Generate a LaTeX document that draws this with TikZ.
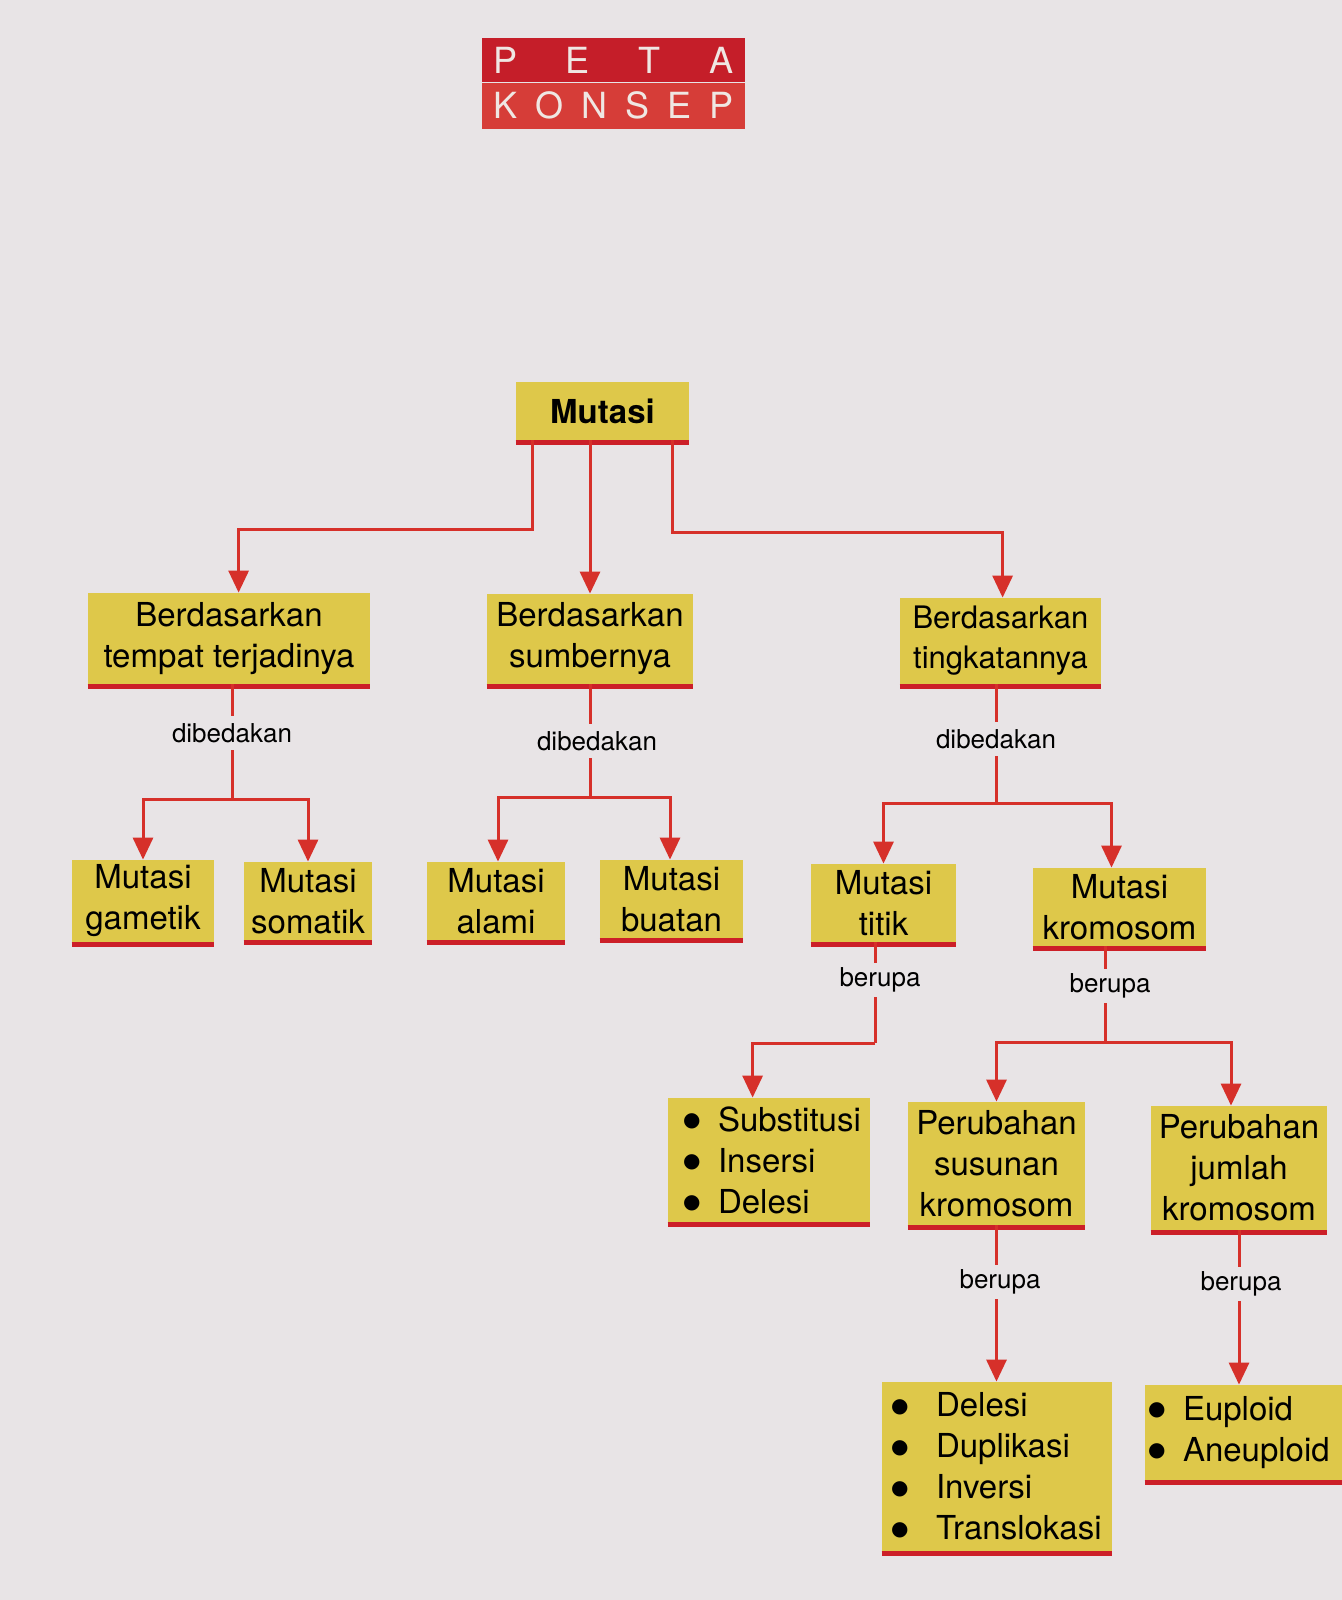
\documentclass[tikz,border=0pt]{standalone}
\usepackage{fontspec}
\setmainfont{TeX Gyre Heros}
\newfontfamily\symfont{DejaVu Sans}
\usetikzlibrary{arrows.meta,calc}
\definecolor{paper}{HTML}{E8E4E6}
\definecolor{boxyellow}{HTML}{DEC84A}
\definecolor{linered}{HTML}{D6302A}
\definecolor{barred}{HTML}{CC1F28}
\definecolor{titletop}{HTML}{C51E29}
\definecolor{titlebot}{HTML}{D63D38}
\definecolor{titletext}{HTML}{EFE7E3}
\newcommand{\boxfont}{\fontsize{16.5}{20.5}\selectfont}
\newcommand{\lblfont}{\fontsize{13}{15}\selectfont}
\newcommand{\itm}[2]{\hspace*{#1}\makebox[#2][l]{\raisebox{2.3pt}{\fontsize{10}{12}\symfont ●}}}
\tikzstyle{block} = [rectangle, fill=boxyellow, inner sep=0pt, align=center, font=\boxfont]
\tikzstyle{listblock} = [block, align=left]
\tikzstyle{titlebar} = [rectangle, inner sep=0pt, minimum width=131.5pt, text=titletext, font=\fontsize{18}{18}\selectfont]
\tikzstyle{lbl} = [inner sep=0pt, minimum height=17pt, font=\lblfont]
\tikzstyle{conn} = [draw=linered, line width=1.5pt]
\tikzstyle{uline} = [draw=barred, line width=2.5pt]
\begin{document}
\begin{tikzpicture}[x=0.5pt, y=-0.5pt, >={Triangle[length=11pt,width=10pt]}]
   \fill[paper] (0,0) rectangle (1342,1600);
   \useasboundingbox (0,0) rectangle (1342,1600);

   % title
   \node[titlebar, fill=titletop, minimum height=22pt] (peta) at (613.5,60) {\hbox to 120.5pt{P\hfill E\hfill T\hfill A}};
   \node[titlebar, fill=titlebot, minimum height=23pt, anchor=north] (konsep) at (peta.south) {\hbox to 120.5pt{K\hfill O\hfill N\hfill S\hfill E\hfill P}};

   % nodes
   \node[block, font=\boxfont\bfseries, minimum width=86.5pt, minimum height=29pt] (mutasi) at (602.5,411) {Mutasi};
   \node[block, minimum width=141pt, minimum height=45.5pt] (tempat)   at (229,638.5)   {Berdasarkan\\tempat terjadinya};
   \node[block, minimum width=103pt, minimum height=45pt]   (sumber)   at (590,639)     {Berdasarkan\\sumbernya};
   \node[block, font=\fontsize{15.5}{20}\selectfont, minimum width=100.5pt, minimum height=43pt] (tingkat) at (1000.5,641) {Berdasarkan\\tingkatannya};
   \node[block, minimum width=71pt, minimum height=41pt]    (gametik)  at (143,901)     {Mutasi\\gametik};
   \node[block, minimum width=64pt, minimum height=39pt]    (somatik)  at (308,901)     {Mutasi\\somatik};
   \node[block, minimum width=69pt, minimum height=39pt]    (alami)    at (496,901)     {Mutasi\\alami};
   \node[block, minimum width=71.5pt, minimum height=39pt]  (buatan)   at (671.5,899)   {Mutasi\\buatan};
   \node[block, minimum width=72.5pt, minimum height=39pt]  (titik)    at (883.5,903)   {Mutasi\\titik};
   \node[block, minimum width=86.5pt, minimum height=39pt]  (kromosom) at (1119.5,907)  {Mutasi\\kromosom};
   \node[listblock, text width=101pt, minimum height=62pt]  (titiklist) at (769,1160)
      {\itm{7.5pt}{17.5pt}Substitusi\\\itm{7.5pt}{17.5pt}Insersi\\\itm{7.5pt}{17.5pt}Delesi};
   \node[block, minimum width=88.5pt, minimum height=61.5pt] (susunan) at (996.5,1163.5) {Perubahan\\susunan\\kromosom};
   \node[block, minimum width=88pt, minimum height=62pt]    (jumlah)   at (1239,1168)   {Perubahan\\jumlah\\kromosom};
   \node[listblock, text width=115pt, minimum height=84.5pt] (susunanlist) at (997,1466.5)
      {\itm{4.5pt}{22.5pt}Delesi\\\itm{4.5pt}{22.5pt}Duplikasi\\\itm{4.5pt}{22.5pt}Inversi\\\itm{4.5pt}{22.5pt}Translokasi};
   \node[listblock, text width=102.5pt, minimum height=47.5pt] (jumlahlist) at (1247.5,1432.5)
      {\itm{1.5pt}{17.5pt}Euploid\\\itm{1.5pt}{17.5pt}Aneuploid};

   \foreach \n in {mutasi,tempat,sumber,tingkat,gametik,somatik,alami,buatan,titik,kromosom,titiklist,susunan,jumlah,susunanlist,jumlahlist}
      \draw[uline] ([yshift=-1.25pt]\n.south west) -- ([yshift=-1.25pt]\n.south east);

   % labels
   \node[lbl] (dbtempat)   at (232,733)   {dibedakan};
   \node[lbl] (dbsumber)   at (597,741)   {dibedakan};
   \node[lbl] (dbtingkat)  at (996,739)   {dibedakan};
   \node[lbl] (brtitik)    at (880,980)   {berupa};
   \node[lbl] (brkromosom) at (1110,986)  {berupa};
   \node[lbl] (brsusunan)  at (1000,1282) {berupa};
   \node[lbl] (brjumlah)   at (1241,1284) {berupa};

   % junctions
   \coordinate (jtempat)   at (232,799);
   \coordinate (jsumber)   at (590,797);
   \coordinate (jtingkat)  at (996,803);
   \coordinate (jtitik)    at (875,1043);
   \coordinate (jkromosom) at (1105,1042);

   % edges
   \draw[conn,->] ($(mutasi.south west)+(17,0)$) -- ++(0,89) -| ($(tempat.north west)+(151,0)$);
   \draw[conn,->] (sumber.north |- mutasi.south) -- (sumber.north);
   \draw[conn,->] ($(mutasi.south west)+(157,0)$) -- ++(0,92) -| ($(tingkat.north west)+(103,0)$);

   \draw[conn] (tempat.south -| dbtempat.north) -- (dbtempat.north);
   \draw[conn] (dbtempat.south) -- (jtempat);
   \draw[conn,->] (jtempat) -| (gametik.north);
   \draw[conn,->] (jtempat) -| (somatik.north);

   \draw[conn] (sumber.south) -- (sumber.south |- dbsumber.north);
   \draw[conn] (sumber.south |- dbsumber.south) -- (jsumber);
   \draw[conn,->] (jsumber) -| ($(alami.north)+(2,0)$);
   \draw[conn,->] (jsumber) -| ($(buatan.north)+(-1.5,0)$);

   \draw[conn] (tingkat.south -| jtingkat) -- (dbtingkat.north);
   \draw[conn] (dbtingkat.south) -- (jtingkat);
   \draw[conn,->] (jtingkat) -| (titik.north);
   \draw[conn,->] (jtingkat) -| ($(kromosom.north)+(-8,0)$);

   \draw[conn] (titik.south -| jtitik) -- (jtitik |- brtitik.north);
   \draw[conn] (jtitik |- brtitik.south) -- (jtitik);
   \draw[conn,->] (jtitik) -| ($(titiklist.north west)+(85,0)$);

   \draw[conn] (kromosom.south -| jkromosom) -- (jkromosom |- brkromosom.north);
   \draw[conn] (jkromosom |- brkromosom.south) -- (jkromosom);
   \draw[conn,->] (jkromosom) -| (susunan.north);
   \draw[conn,->] (jkromosom) -| ($(jumlah.north)+(-8,0)$);

   \draw[conn] (susunan.south) -- (susunan.south |- brsusunan.north);
   \draw[conn,->] (susunan.south |- brsusunan.south) -- (susunanlist.north -| susunan.south);
   \draw[conn] (jumlah.south) -- (jumlah.south |- brjumlah.north);
   \draw[conn,->] (jumlah.south |- brjumlah.south) -- (jumlahlist.north -| jumlah.south);
\end{tikzpicture}
\end{document}
